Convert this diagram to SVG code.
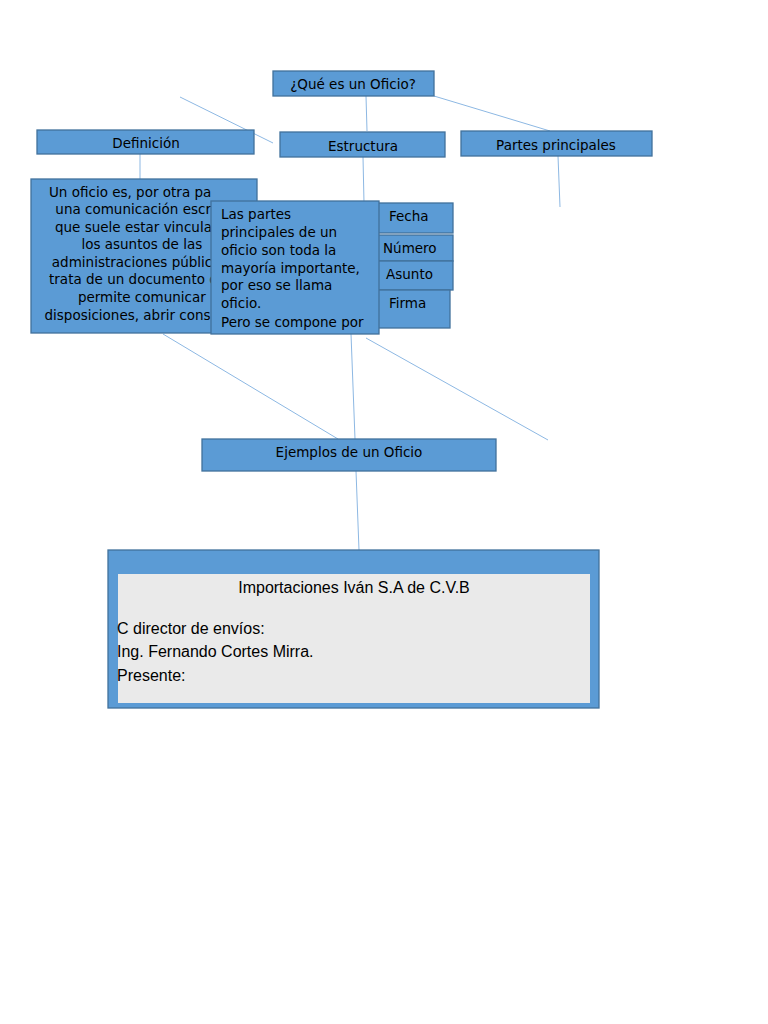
<svg xmlns="http://www.w3.org/2000/svg" width="768" height="1024" viewBox="0 0 768 1024">
<style>
.b{fill:#5b9bd5;stroke:#41719c;stroke-width:1.3}
.t{font-family:"DejaVu Sans",sans-serif;font-size:13.5px;fill:#000}
.c line{stroke:#8db8e3;stroke-width:1}
.a{font-family:"Liberation Sans",Arial,sans-serif;font-size:16px;fill:#000}
</style>
<defs><clipPath id="cl"><rect x="31" y="179" width="180" height="154"/></clipPath></defs>
<rect width="768" height="1024" fill="#fff"/>
<g class="c">
<line x1="180" y1="97" x2="273" y2="143"/>
<line x1="366" y1="96" x2="367" y2="131"/>
<line x1="434" y1="96" x2="550" y2="131"/>
<line x1="558" y1="156" x2="560" y2="207"/>
<line x1="140" y1="154" x2="140" y2="179"/>
<line x1="363" y1="157" x2="364" y2="203"/>
<line x1="163" y1="334" x2="338" y2="439"/>
<line x1="351" y1="334" x2="355" y2="439"/>
<line x1="366" y1="338" x2="548" y2="440"/>
<line x1="356" y1="471" x2="359" y2="550"/>
</g>
<g id="que"><rect class="b" x="273" y="71" width="161" height="25"/><text class="t" x="353" y="89" text-anchor="middle">¿Qué es un Oficio?</text></g>
<g id="definicion"><rect class="b" x="37" y="130" width="217" height="24"/><text class="t" x="146" y="148" text-anchor="middle">Definición</text></g>
<g id="estructura"><rect class="b" x="280" y="132" width="165" height="25"/><text class="t" x="363" y="151" text-anchor="middle">Estructura</text></g>
<g id="partes"><rect class="b" x="461" y="131" width="191" height="25"/><text class="t" x="556" y="150" text-anchor="middle">Partes principales</text></g>
<g id="deftext"><rect class="b" x="31" y="179" width="226" height="154"/>
<g clip-path="url(#cl)"><text class="t" text-anchor="middle">
<tspan x="144" y="197">Un oficio es, por otra parte,</tspan>
<tspan x="144" y="214">una comunicación escrita</tspan>
<tspan x="144" y="232">que suele estar vinculada</tspan>
<tspan x="144" y="249">los asuntos de las</tspan>
<tspan x="144" y="267">administraciones públicas.</tspan>
<tspan x="144" y="284">trata de un documento que</tspan>
<tspan x="144" y="302">permite comunicar</tspan>
<tspan x="144" y="320">disposiciones, abrir consultas</tspan>
</text></g></g>
<g id="fecha"><rect class="b" x="378" y="203" width="75" height="30"/><text class="t" x="389" y="221">Fecha</text></g>
<g id="numero"><rect class="b" x="378" y="235" width="75" height="26"/><text class="t" x="383" y="253">Número</text></g>
<g id="asunto"><rect class="b" x="378" y="261" width="75" height="29"/><text class="t" x="386" y="279">Asunto</text></g>
<g id="firma"><rect class="b" x="378" y="290" width="72" height="38"/><text class="t" x="389" y="308">Firma</text></g>
<g id="partestext"><rect class="b" x="211" y="201" width="168" height="133"/>
<text class="t"><tspan x="221" y="219">Las partes</tspan><tspan x="221" y="237">principales de un</tspan><tspan x="221" y="255">oficio son toda la</tspan><tspan x="221" y="273">mayoría importante,</tspan><tspan x="221" y="290">por eso se llama</tspan><tspan x="221" y="308">oficio.</tspan><tspan x="221" y="327">Pero se compone por</tspan></text></g>
<g id="ejemplos"><rect class="b" x="202" y="439" width="294" height="32"/><text class="t" x="349" y="457" text-anchor="middle">Ejemplos de un Oficio</text></g>
<g id="ejemplo"><rect class="b" x="108" y="550" width="491" height="158"/><rect x="118" y="574" width="472" height="129" fill="#eaeaea"/>
<text class="a" x="354" y="593" text-anchor="middle">Importaciones Iván S.A de C.V.B</text>
<text class="a"><tspan x="117" y="634">C director de envíos:</tspan><tspan x="117" y="657">Ing. Fernando Cortes Mirra.</tspan><tspan x="117" y="681">Presente:</tspan></text></g>
</svg>
